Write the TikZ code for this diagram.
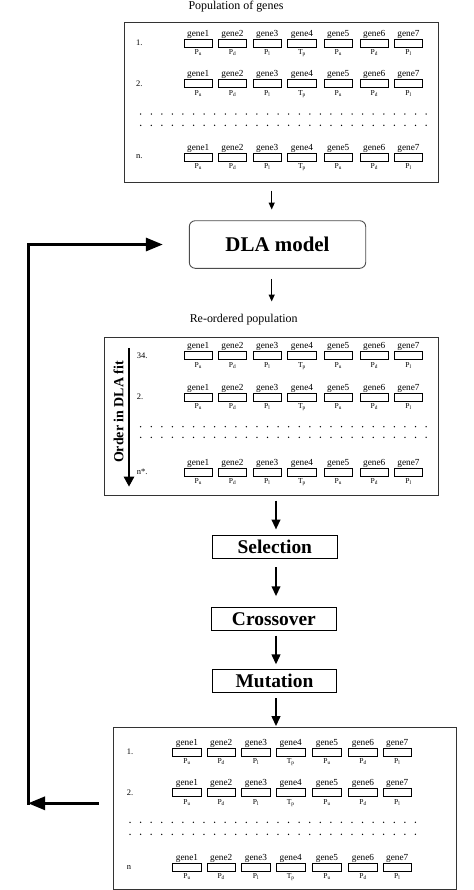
\documentclass[tikz,border=0pt]{standalone}
\usepackage{fontspec}
\setmainfont{Liberation Serif}
\usetikzlibrary{arrows.meta}
\newcommand{\GeneRow}[5]{%
  \node[rowlbl] (#1lab) at (#5,#2) {#4};
  \foreach \c/\L/\s [count=\i] in {198.3/P/u,232.5/P/d,267.3/P/l,302/T/p,338.3/P/u,374.3/P/d,408.5/P/l}{%
    \node[genebox] (#1g\i) at ({\c+#3},#2) {};
    \node[genelbl] (#1n\i) at ({\c+#3},{#2-7}) {gene\i};
    \node[plbl] (#1p\i) at ({\c+#3},{#2+11.5}) {\L\textsubscript{\s}};
  }%
}
\newcommand{\DotRow}[2]{%
  \foreach \k in {0,...,27}{\fill ({#1+\k*10.57},#2) circle (0.75bp);}%
}
\begin{document}
\begin{tikzpicture}[x=1bp,y=-1bp,
  genebox/.style={draw, line width=0.75bp, minimum width=28.5bp, minimum height=8bp, inner sep=0pt},
  genelbl/.style={font=\fontsize{9.3}{9.3}\selectfont, inner sep=0pt, anchor=base},
  plbl/.style={font=\fontsize{7.6}{7.6}\selectfont, inner sep=0pt, anchor=base},
  rowlbl/.style={font=\fontsize{8.5}{8.5}\selectfont, inner sep=0pt, anchor=west},
  popbox/.style={draw=black!80, line width=1bp, inner sep=0pt},
  stepbox/.style={draw, line width=1bp, inner sep=0pt, minimum width=124.5bp, minimum height=23.3bp, font=\bfseries\fontsize{19.5}{19.5}\selectfont},
  poptitle/.style={font=\fontsize{12}{12}\selectfont, inner sep=0pt, anchor=base},
  thinarr/.style={line width=1.3bp, -{Triangle[length=7bp,width=6bp]}},
  thickarr/.style={line width=2.2bp, -{Triangle[length=10bp,width=8.5bp]}},
  ordarr/.style={line width=2.7bp, -{Triangle[length=10bp,width=10bp]}},
  fbarr/.style={line width=3bp, -{Triangle[length=17bp,width=13bp]}},
]
\useasboundingbox (0,0) rectangle (474,890);

% top population
\node[poptitle] (poptitle) at (236,9.6) {Population of genes};
\node[popbox, minimum width=313.3bp, minimum height=160bp] (pop) at (281.35,102.7) {};
\GeneRow{a}{43}{0}{1.}{136}
\GeneRow{b}{83.7}{0}{2.}{136}
\GeneRow{c}{157}{0}{n.}{136}
\DotRow{140.7}{114}
\DotRow{140.7}{125.3}

% DLA model
\node[draw=black!70, rounded corners=6bp, line width=0.9bp, minimum width=176.4bp, minimum height=47.6bp, inner sep=0pt, font=\bfseries\fontsize{21}{21}\selectfont] (dla) at (277.5,244.5) {DLA model};

% re-ordered population
\node[poptitle] (retitle) at (243.7,322) {Re-ordered population};
\node[popbox, minimum width=334bp, minimum height=158.4bp] (reord) at (271.3,416.5) {};
\GeneRow{d}{355.8}{0}{34.}{136.7}
\GeneRow{e}{397}{0}{2.}{136.7}
\GeneRow{f}{472}{0}{n*.}{136.7}
\DotRow{140.7}{426.7}
\DotRow{140.7}{437.3}
\coordinate (ordt) at (129,348);
\coordinate (ordb) at (129,486.7);
\draw[ordarr] (ordt) -- (ordb);
\node[rotate=90, font=\bfseries\fontsize{14}{14}\selectfont, inner sep=0pt] (ordlbl) at (118.5,412) {Order in DLA fit};

% steps
\node[stepbox] (sel) at (274.8,546.7) {Selection};
\node[stepbox] (cross) at (273.9,619.2) {Crossover};
\node[stepbox] (mut) at (274.5,681.3) {Mutation};

% bottom population
\node[popbox, minimum width=343.4bp, minimum height=162bp] (bot) at (285,808.3) {};
\GeneRow{g}{752.2}{-11.3}{1.}{126.7}
\GeneRow{h}{792.8}{-11.3}{2.}{126.7}
\GeneRow{k}{867.2}{-11.3}{n}{126.7}
\DotRow{130}{822.3}
\DotRow{130}{834.3}

% arrows
\coordinate (ax) at (271.7,0);
\coordinate (bx) at (276,0);
\draw[thinarr, shorten <=7.3bp, shorten >=10.7bp] (pop.south -| ax) -- (dla.north -| ax);
\draw[thinarr, shorten <=10bp, shorten >=12bp] (dla.south -| ax) -- (retitle.north -| ax);
\draw[thickarr, shorten <=4.3bp, shorten >=5bp] (reord.south -| bx) -- (sel.north -| bx);
\draw[thickarr, shorten <=8.4bp, shorten >=10.8bp] (sel.south -| bx) -- (cross.north -| bx);
\draw[thickarr, shorten <=4.2bp, shorten >=4.7bp] (cross.south -| bx) -- (mut.north -| bx);
\draw[thickarr, shorten <=4.8bp, shorten >=0.6bp] (mut.south -| bx) -- (bot.north -| bx);

% feedback loop
\coordinate (fbs) at (98.7,803.3);
\coordinate (fbc) at (28,803.3);
\coordinate (fbl) at (28,804.8);
\draw[fbarr] (fbs) -- (fbc);
\draw[fbarr, shorten >=26bp] (fbl) |- (dla.west);
\end{tikzpicture}
\end{document}
